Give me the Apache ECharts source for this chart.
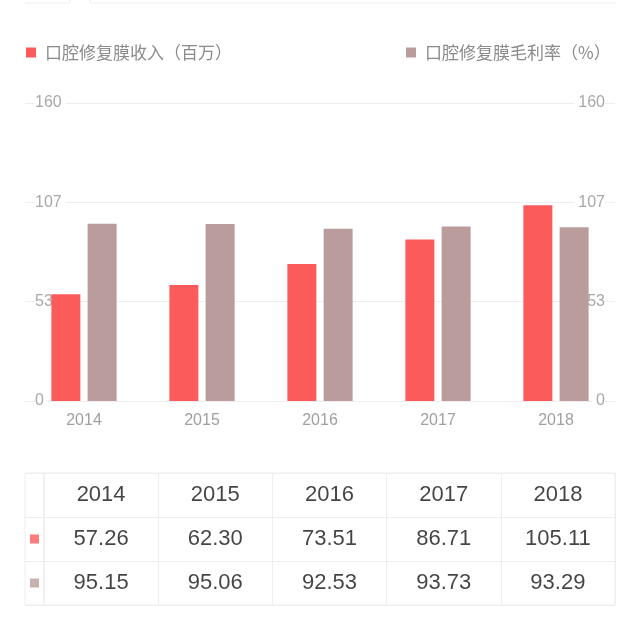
<!DOCTYPE html>
<html>
<head>
<meta charset="utf-8">
<script src="https://cdn.jsdelivr.net/npm/echarts@6/dist/echarts.min.js"></script>
<style>
  html, body { margin: 0; padding: 0; background: #fff; }
  #chart { width: 640px; height: 630px; }
</style>
</head>
<body>
<div id="chart"></div>
<script>
// chart values
const years = ['2014', '2015', '2016', '2017', '2018']
const revenue = [57.26, 62.30, 73.51, 86.71, 105.11]
const margin = [95.15, 95.06, 92.53, 93.73, 93.29]
const seriesNames = ['口腔修复膜收入（百万）', '口腔修复膜毛利率（%）']
const axisMax = 160
const axisSplits = 3
const tableRows = ['head', 'revenue', 'margin']

const red = '#fb5b5b'
const mauve = '#bb9c9c'
const numFont = 'Liberation Sans, Noto Sans CJK SC, sans-serif'
const cjkFont = 'Noto Sans CJK SC, sans-serif'

// cells of the table under the chart: [column, row, text]
function makeTableCells () {
  let cells = []
  for (let i = 0; i < years.length; i++) {
    cells.push([i, 0, years[i]])
    cells.push([i, 1, revenue[i].toFixed(2)])
    cells.push([i, 2, margin[i].toFixed(2)])
  }
  return cells
}

function valueAxis (pos, align, pad) {
  return {
    type: 'value',
    position: pos,
    min: 0,
    max: axisMax,
    interval: axisMax / axisSplits,
    gridIndex: 0,
    axisLine: { show: false },
    axisTick: { show: false },
    splitLine: { show: pos === 'left', lineStyle: { color: '#eeeeee' } },
    axisLabel: {
      inside: true,
      margin: 10,
      align: align,
      color: '#a8a8a8',
      fontSize: 16,
      fontFamily: numFont,
      backgroundColor: '#fff',
      padding: pad,
      formatter: v => Math.round(v)
    }
  }
}

function legendAt (name, left) {
  return {
    data: [name],
    left: left,
    top: 44,
    padding: 0,
    icon: 'rect',
    itemWidth: 10,
    itemHeight: 10,
    textStyle: { color: '#8a8a8a', fontSize: 17, fontFamily: cjkFont, padding: [0, 0, 0, 4] }
  }
}

const chart = echarts.init(document.getElementById('chart'), null, { renderer: 'canvas' })
const option = {
  animation: false,
  backgroundColor: '#fff',
  graphic: [
    { type: 'line', shape: { x1: 25, y1: 3, x2: 70, y2: 3 }, style: { stroke: '#eeeeee', lineWidth: 1 } },
    { type: 'line', shape: { x1: 70, y1: 0, x2: 70, y2: 3 }, style: { stroke: '#eeeeee', lineWidth: 1 } },
    { type: 'line', shape: { x1: 90, y1: 3, x2: 616, y2: 3 }, style: { stroke: '#eeeeee', lineWidth: 1 } },
    { type: 'line', shape: { x1: 90, y1: 0, x2: 90, y2: 3 }, style: { stroke: '#eeeeee', lineWidth: 1 } }
  ],
  legend: [legendAt(seriesNames[0], 26), legendAt(seriesNames[1], 406)],
  grid: [
    { left: 25, right: 25, top: 103, height: 298 },
    { left: 44, right: 25, top: 473, height: 132, show: true, borderColor: '#eeeeee', borderWidth: 1 },
    { left: 25, width: 19, top: 473, height: 132, show: true, borderColor: '#eeeeee', borderWidth: 1 }
  ],
  xAxis: [{
    type: 'category',
    gridIndex: 0,
    data: years,
    axisLine: { lineStyle: { color: '#eeeeee' } },
    axisTick: { show: false },
    axisLabel: { color: '#a0a0a0', fontSize: 16, fontFamily: numFont, margin: 12 }
  }, {
    type: 'category',
    gridIndex: 1,
    data: years,
    axisLine: { show: false },
    axisTick: { show: false },
    axisLabel: { show: false },
    splitLine: { show: true, lineStyle: { color: '#eeeeee' } }
  }, {
    type: 'category',
    gridIndex: 2,
    data: [''],
    axisLine: { show: false },
    axisTick: { show: false },
    axisLabel: { show: false }
  }],
  yAxis: [
    valueAxis('left', 'left', [0, 4, 0, 0]),
    valueAxis('right', 'right', [0, 0, 0, 4]),
    {
      type: 'category',
      gridIndex: 1,
      data: tableRows,
      inverse: true,
      axisLine: { show: false },
      axisTick: { show: false },
      axisLabel: { show: false },
      splitLine: { show: true, lineStyle: { color: '#eeeeee' } }
    }, {
      type: 'category',
      gridIndex: 2,
      data: tableRows,
      inverse: true,
      axisLine: { show: false },
      axisTick: { show: false },
      axisLabel: { show: false },
      splitLine: { show: true, lineStyle: { color: '#eeeeee' } }
    }
  ],
  series: [{
    name: seriesNames[0],
    type: 'bar',
    xAxisIndex: 0,
    yAxisIndex: 0,
    data: revenue,
    barWidth: 29,
    barGap: '25%',
    itemStyle: { color: red }
  }, {
    name: seriesNames[1],
    type: 'bar',
    xAxisIndex: 0,
    yAxisIndex: 1,
    data: margin,
    barWidth: 29,
    barGap: '25%',
    itemStyle: { color: mauve }
  }, {
    type: 'scatter',
    xAxisIndex: 1,
    yAxisIndex: 2,
    data: makeTableCells(),
    symbolSize: 1,
    itemStyle: { color: 'rgba(0,0,0,0)' },
    label: {
      show: true,
      position: 'inside',
      formatter: p => p.value[2],
      color: '#151515',
      fontSize: 22,
      fontFamily: numFont
    }
  }, {
    type: 'scatter',
    xAxisIndex: 2,
    yAxisIndex: 3,
    symbol: 'rect',
    symbolSize: 9,
    data: [
      { value: [0, 1], itemStyle: { color: red } },
      { value: [0, 2], itemStyle: { color: mauve } }
    ]
  }]
}
chart.setOption(option)
</script>
</body>
</html>
